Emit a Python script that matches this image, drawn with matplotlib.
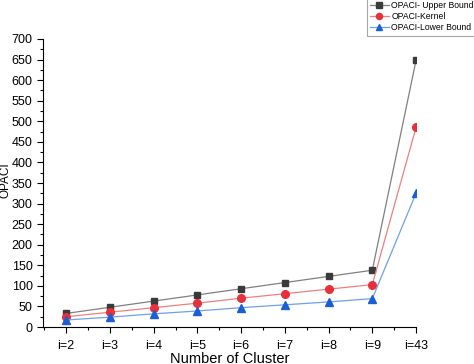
import numpy as np
import matplotlib
matplotlib.use("Agg")
import matplotlib.pyplot as plt
from matplotlib.ticker import MultipleLocator, FixedLocator

plt.rcParams["font.family"] = ["Liberation Sans", "DejaVu Sans"]

clusters = ["i=2", "i=3", "i=4", "i=5", "i=6", "i=7", "i=8", "i=9", "i=43"]
upper = [33, 48, 63, 78, 93, 108, 123, 138, 648]
kernel = [25, 36, 47, 58, 70, 81, 92, 103, 485]
lower = [17, 24, 32, 39, 47, 54, 61, 69, 325]

fig = plt.figure(figsize=(4.74, 3.64), dpi=100)
ax = fig.add_axes([0.0907, 0.1016, 0.7870, 0.7913])

x = np.arange(len(clusters))
ax.plot(x, upper, color="#808080", lw=0.9, marker="s", ms=5,
        mfc="#3a3a3a", mec="#3a3a3a", label="OPACI- Upper Bound")
ax.plot(x, kernel, color="#f08080", lw=0.9, marker="o", ms=5.5,
        mfc="#e8303a", mec="#e8303a", label="OPACI-Kernel")
ax.plot(x, lower, color="#6fa0e8", lw=0.9, marker="^", ms=6,
        mfc="#1a5fd6", mec="#1a5fd6", label="OPACI-Lower Bound")

ax.set_xlim(-0.53, 8)
ax.set_ylim(0, 700)
ax.set_xticks(x)
ax.set_xticklabels(clusters)
ax.xaxis.set_minor_locator(FixedLocator(np.arange(-0.5, 8, 1.0)))
ax.yaxis.set_major_locator(MultipleLocator(50))
ax.yaxis.set_minor_locator(MultipleLocator(25))
ax.tick_params(which="major", direction="out", length=4, width=0.8, labelsize=9)
ax.tick_params(which="minor", direction="out", length=2.5, width=0.8)
ax.tick_params(axis="x", which="major", pad=5)
for s in ["top", "right"]:
    ax.spines[s].set_visible(False)

ax.set_xlabel("Number of Cluster", fontsize=10.5)
ax.xaxis.label.set_va("top")
ax.xaxis.set_label_coords(0.5, -0.085)
ax.set_ylabel("OPACI", fontsize=8.5)
ax.yaxis.set_label_coords(-0.085, 0.51)

leg = fig.legend(loc="upper left", bbox_to_anchor=(0.774, 1.005), fontsize=6.2,
                 frameon=True, fancybox=False, edgecolor="#909090",
                 handlelength=2.2, handletextpad=0.3, borderpad=0.35,
                 labelspacing=0.25, markerscale=0.8, borderaxespad=0)
leg.get_frame().set_linewidth(0.8)

fig.savefig("out.png", dpi=100)
